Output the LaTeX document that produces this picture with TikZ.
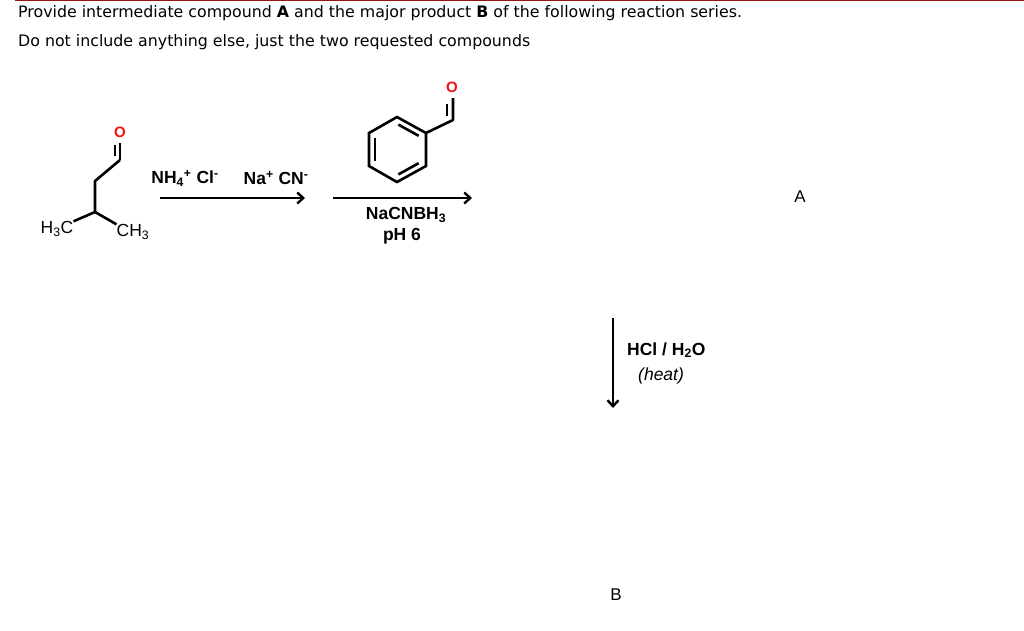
\documentclass[tikz,border=0pt]{standalone}
\usepackage{fontspec}
\setmainfont{DejaVu Sans}
\newfontfamily\arialf{Liberation Sans}
\usetikzlibrary{arrows.meta,calc}
\begin{document}
\begin{tikzpicture}[x=1pt,y=-1pt,
  bond/.style={line width=2.6pt},
  rx/.style={line width=2.6pt,-{Straight Barb[length=6pt,width=11pt,line width=2.4pt]}},
  chem/.style={font=\arialf\fontsize{17.5}{19}\selectfont\bfseries,inner sep=0pt},
  oxy/.style={font=\arialf\fontsize{15}{16}\selectfont\bfseries,inner sep=0pt,text={rgb,255:red,235;green,20;blue,20}},
  q/.style={font=\fontsize{15.8}{18}\selectfont,anchor=west,inner sep=0pt}]
\useasboundingbox (0,0) rectangle (1024,630);
\draw[line width=1.5pt,color={rgb,255:red,150;green,20;blue,20}] (15,0.7) -- (1024,0.7);
\node[q] (t1) at (18,13) {Provide intermediate compound \textbf{A} and the major product \textbf{B} of the following reaction series.};
\node[q] (t2) at (18,42) {Do not include anything else, just the two requested compounds};
% molecule 1
\node[oxy] (o1) at (120,132) {O};
\coordinate (c1) at (120,160);
\coordinate (c2) at (95,181);
\coordinate (c3) at (95,212);
\coordinate (c1o) at (120,143);
\node[chem,font=\arialf\fontsize{17.5}{19}\selectfont] (m1) at (57,229) {H\textsubscript{3}C};
\node[chem,font=\arialf\fontsize{17.5}{19}\selectfont] (m2) at (133,232) {CH\textsubscript{3}};
\draw[bond,line join=round] (c1) -- (c2) -- (c3) -- (m1.north east);
\draw[bond] (c3) -- (m2.north west);
\draw[bond] (c1) -- (c1o);
\draw[bond] (115,156) -- (115,145);
% arrow 1
\coordinate (a1s) at (160,198); \coordinate (a1e) at (305,198);
\draw[rx] (a1s) -- (a1e);
\node[chem] (r1) at (185,178) {NH\textsubscript{4}\textsuperscript{+} Cl\textsuperscript{-}};
\node[chem] (r2) at (276,178) {Na\textsuperscript{+} CN\textsuperscript{-}};
% benzaldehyde
\coordinate (b1) at (397,117); \coordinate (b2) at (369,133); \coordinate (b3) at (369,166);
\coordinate (b4) at (397,182); \coordinate (b5) at (426,166); \coordinate (b6) at (426,133);
\draw[bond,line join=miter] (b1) -- (b2) -- (b3) -- (b4) -- (b5) -- (b6) -- cycle;
\draw[bond] ($(b2)!0.15!(b3)+(6,0)$) -- ($(b2)!0.85!(b3)+(6,0)$);
\draw[bond] ($(b4)!0.15!(b5)+(-3,-5.2)$) -- ($(b4)!0.85!(b5)+(-3,-5.2)$);
\draw[bond] ($(b6)!0.15!(b1)+(-3,5.2)$) -- ($(b6)!0.85!(b1)+(-3,5.2)$);
\coordinate (cc) at (453,120);
\coordinate (cco) at (453,98);
\node[oxy] (o2) at (452,87) {O};
\draw[bond,line join=round] (b6) -- (cc) -- (cco);
\draw[bond] (447,116) -- (447,104);
% arrow 2
\coordinate (a2s) at (333,198); \coordinate (a2e) at (472,198);
\draw[rx] (a2s) -- (a2e);
\node[chem] (r3) at (406,215) {NaCNBH\textsubscript{3}};
\node[chem] (r4) at (402,236) {pH 6};
\node[font=\arialf\fontsize{17}{19}\selectfont] (A) at (800,197) {A};
% vertical
\coordinate (v1) at (613,318); \coordinate (v2) at (613,408);
\draw[rx] (v1) -- (v2);
\node[chem,anchor=west] (r5) at (627,350) {HCl / H\textsubscript{2}O};
\node[font=\arialf\fontsize{17.5}{19}\selectfont\itshape,anchor=west,inner sep=0pt] (r6) at (638,376) {(heat)};
\node[font=\arialf\fontsize{17}{19}\selectfont] (B) at (616,595) {B};
\end{tikzpicture}
\end{document}
